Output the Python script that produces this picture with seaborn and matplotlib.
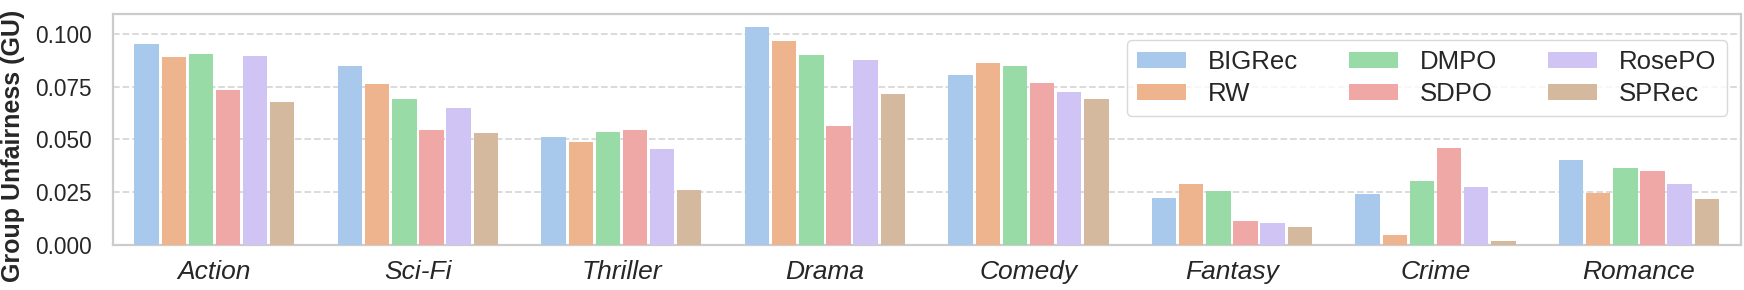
import matplotlib
matplotlib.use("Agg")
import matplotlib.pyplot as plt
import seaborn as sns
import pandas as pd

categories = ["Action", "Sci-Fi", "Thriller", "Drama", "Comedy", "Fantasy", "Crime", "Romance"]
methods = ["BIGRec", "RW", "DMPO", "SDPO", "RosePO", "SPRec"]

bigrec = [0.0951, 0.0849, 0.0512, 0.1034, 0.0806, 0.0222, 0.0241, 0.0402]
rw     = [0.0892, 0.0764, 0.0490, 0.0968, 0.0863, 0.0288, 0.0046, 0.0246]
dmpo   = [0.0903, 0.0692, 0.0535, 0.0901, 0.0849, 0.0255, 0.0303, 0.0364]
sdpo   = [0.0732, 0.0545, 0.0545, 0.0564, 0.0768, 0.0113, 0.0459, 0.0350]
rosepo = [0.0897, 0.0649, 0.0455, 0.0877, 0.0725, 0.0103, 0.0274, 0.0288]
sprec  = [0.0678, 0.0531, 0.0260, 0.0716, 0.0692, 0.0084, 0.0018, 0.0217]

colors = ["#a8c8ec", "#eeb48e", "#98dba6", "#f0a8a6", "#d0c4f5", "#d5b99f"]

series = [bigrec, rw, dmpo, sdpo, rosepo, sprec]
rows = []
for m, vals in zip(methods, series):
    for c, v in zip(categories, vals):
        rows.append({"Genre": c, "Method": m, "GU": v})
df = pd.DataFrame(rows)

sns.set_theme(style="whitegrid")
plt.rcParams["font.family"] = ["Liberation Sans", "DejaVu Sans"]

fig = plt.figure(figsize=(17.44, 2.9), dpi=100)
ax = fig.add_axes([0.06462, 0.1552, 0.9335, 0.7955])

sns.barplot(data=df, x="Genre", y="GU", hue="Method", order=categories,
            hue_order=methods, palette=colors, saturation=1, width=0.8, gap=0.1,
            linewidth=0, ax=ax, zorder=3)

ax.set_xlim(-0.5, 7.5)
ax.set_ylim(0, 0.1093)
ax.set_yticks([0.0, 0.025, 0.05, 0.075, 0.1])
ax.set_yticklabels(["0.000", "0.025", "0.050", "0.075", "0.100"])

ax.grid(axis="x", visible=False)
ax.grid(axis="y", linestyle="--", color="#d8d8d8", linewidth=1.3, zorder=0)
ax.set_axisbelow(True)

for s in ax.spines.values():
    s.set_visible(True)
    s.set_color("#cccccc")
    s.set_linewidth(1.6)

ax.tick_params(axis="y", length=0, pad=15.0, labelsize=16.3, colors="#262626")
ax.tick_params(axis="x", length=0, pad=10.5, labelsize=19, colors="#262626")
for lab in ax.get_xticklabels():
    lab.set_fontstyle("italic")

ax.set_xlabel("")
ax.set_ylabel("Group Unfairness (GU)", fontsize=18, fontweight="bold", color="#262626")
ax.yaxis.set_label_coords(-0.0538, 0.428)

ax.legend(loc="upper right", bbox_to_anchor=(0.9914, 0.888), borderaxespad=0,
          ncol=3, fontsize=18.5, handlelength=1.9, handleheight=0.57,
          handletextpad=0.85, columnspacing=2.0, labelspacing=0.3,
          borderpad=0.4, frameon=True, edgecolor="#d0d0d0", title=None)

fig.savefig("out.png", dpi=100)
